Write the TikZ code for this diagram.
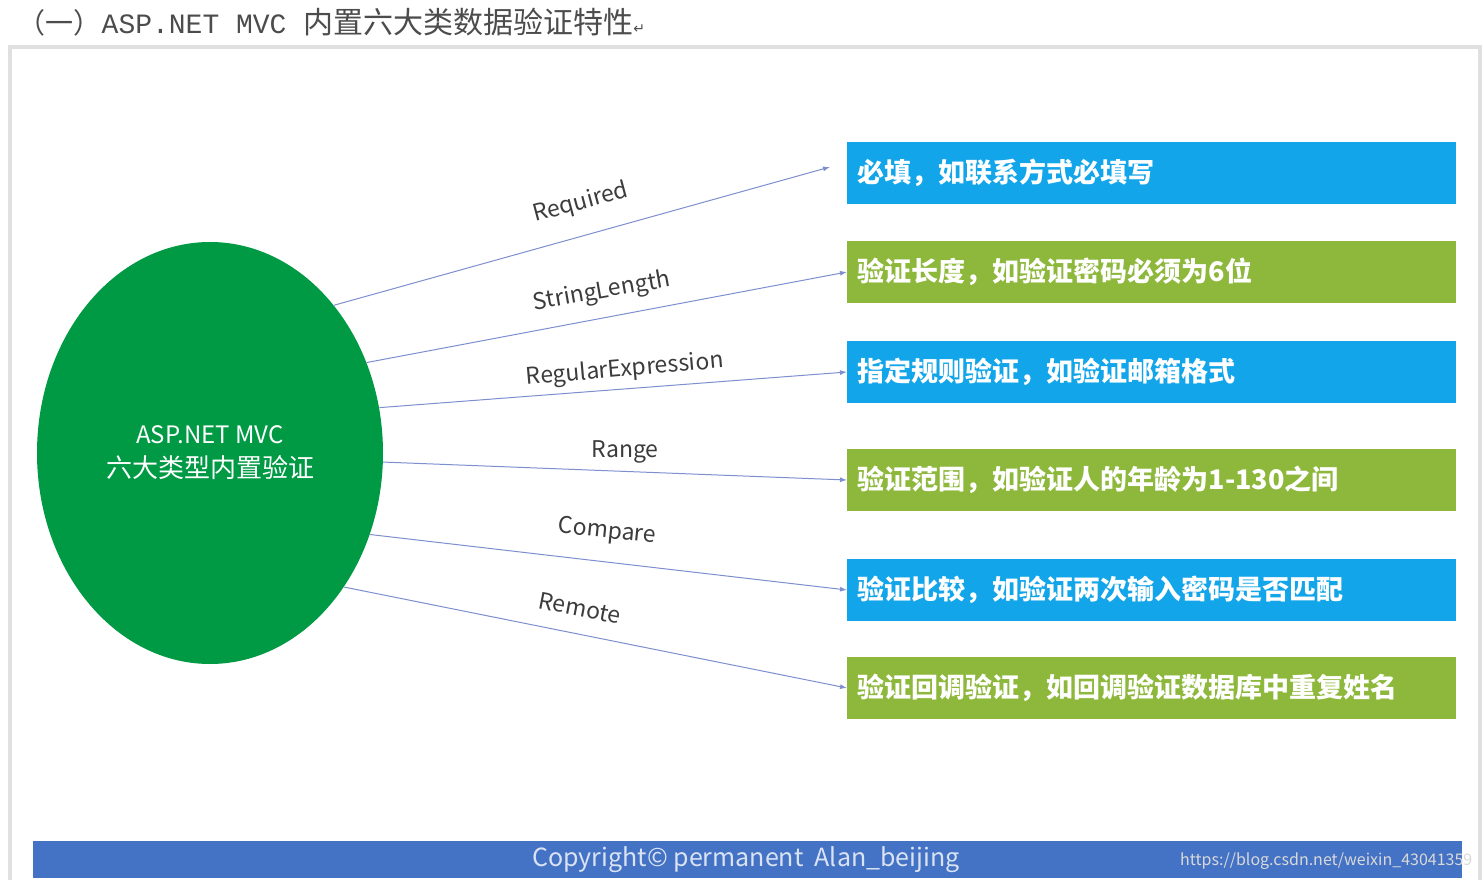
\documentclass[tikz,border=0pt]{standalone}
\usepackage{fontspec}
\setmainfont{Noto Sans CJK SC}
\setmonofont{Liberation Mono}
\newfontfamily\cjk{Noto Sans CJK SC}
\newfontfamily\symfont{DejaVu Sans}
\usetikzlibrary{shapes.geometric,arrows.meta}
\definecolor{coregreen}{RGB}{0,153,68}
\definecolor{boxblue}{RGB}{18,165,234}
\definecolor{boxgreen}{RGB}{141,184,59}
\definecolor{linkblue}{RGB}{126,143,208}
\definecolor{barblue}{RGB}{68,114,196}
\definecolor{labelgray}{RGB}{60,60,60}
\tikzset{every picture/.style={line width=0.75pt}}
\tikzset{
  infobox/.style={anchor=west,minimum width=609pt,minimum height=62pt,inner sep=0pt},
  infotext/.style={anchor=west,text=white,font=\bfseries\fontsize{27}{30}\selectfont},
  link/.style={draw=linkblue,line width=1pt,-{Latex[length=7pt,width=5pt]}},
  linklabel/.style={text=labelgray,font=\fontsize{23}{26}\selectfont}
}
\begin{document}
\begin{tikzpicture}[x=1pt,y=1pt,yscale=-1,xscale=1]
	\useasboundingbox (0,0) rectangle (1484,880);
	% slide frame
	\fill[white] (0,0) rectangle (1484,880);
	\draw[draw=black!12,line width=4pt] (10,47) rectangle (1480,884);
	% title
	\node[anchor=west,text=black!70,font=\ttfamily\fontsize{28}{32}\selectfont] (title) at (14,22)
	  {{\cjk （一）}ASP.NET MVC {\cjk\fontsize{30}{34}\selectfont 内置六大类数据验证特性}{\symfont\fontsize{14}{18}\selectfont ↵}};

	% core ellipse
	\node[ellipse,fill=coregreen,minimum width=346pt,minimum height=422pt,inner sep=0pt,
	  text=white,align=center,font=\fontsize{24}{34}\selectfont] (core) at (210,453)
	  {ASP.NET MVC\\{\fontsize{26}{30}\selectfont 六大类型内置验证}};

	% boxes
	\node[infobox,fill=boxblue]  (b1) at (847,173) {};
	\node[infobox,fill=boxgreen] (b2) at (847,272) {};
	\node[infobox,fill=boxblue]  (b3) at (847,372) {};
	\node[infobox,fill=boxgreen] (b4) at (847,480) {};
	\node[infobox,fill=boxblue]  (b5) at (847,590) {};
	\node[infobox,fill=boxgreen] (b6) at (847,688) {};
	\node[infotext] (t1) at (854,173) {必填，如联系方式必填写};
	\node[infotext] (t2) at (854,272) {验证长度，如验证密码必须为6位};
	\node[infotext] (t3) at (854,372) {指定规则验证，如验证邮箱格式};
	\node[infotext] (t4) at (854,480) {验证范围，如验证人的年龄为1-130之间};
	\node[infotext] (t5) at (854,590) {验证比较，如验证两次输入密码是否匹配};
	\node[infotext] (t6) at (854,688) {验证回调验证，如回调验证数据库中重复姓名};

	% connectors
	\coordinate (e1) at (830,167);
	\draw[link] (core.50) -- (e1);
	\draw[link] (core.30) -- (b2.west);
	\draw[link] (core.15) -- (b3.west);
	\draw[link] (core.-3) -- (b4.west);
	\draw[link] (core.-27) -- (b5.west);
	\draw[link] (core.-45) -- (b6.west);

	% connector labels
	\node[linklabel,rotate=15] (l1) at (581,203) {Required};
	\node[linklabel,rotate=10] (l2) at (602,292) {StringLength};
	\node[linklabel,rotate=5]  (l3) at (625,370) {RegularExpression};
	\node[linklabel]           (l4) at (625,452) {Range};
	\node[linklabel,rotate=-6] (l5) at (607,532) {Compare};
	\node[linklabel,rotate=-11](l6) at (580,608) {Remote};

	% footer bar
	\fill[barblue] (33,841) rectangle (1462,878);
	\node[text=white!80!barblue,font=\fontsize{25}{28}\selectfont] (copy) at (746,860)
	  {Copyright© permanent\ \ Alan\_beijing};
	\node[anchor=east,text=white!85!black,font=\fontsize{16}{18}\selectfont] (mark) at (1476,861)
	  {https://blog.csdn.net/weixin\_43041359};
\end{tikzpicture}
\end{document}
